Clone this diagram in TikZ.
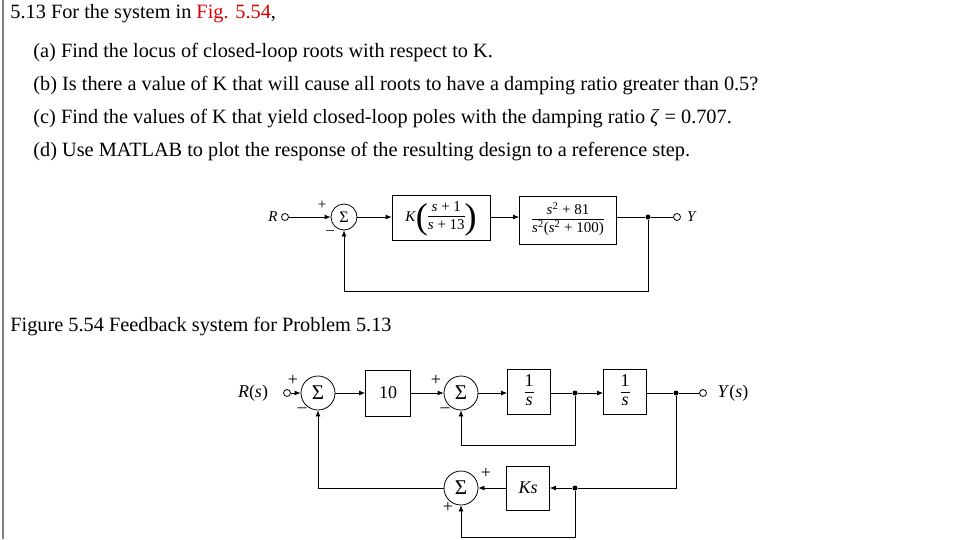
\documentclass[tikz,border=0pt]{standalone}
\usepackage{fontspec}
\setmainfont{Liberation Serif}
\usetikzlibrary{arrows.meta}
\newcommand\fr[2]{\begin{tabular}{@{}c@{}}\rule[-2pt]{0pt}{10pt}#1\\\hline\rule{0pt}{13pt}#2\end{tabular}}
\newcommand\bigpar[1]{\raisebox{-7pt}{\fontsize{36}{36}\selectfont #1}}
\begin{document}
\begin{tikzpicture}[x=1pt,y=-1pt,
  txt/.style={anchor=west,inner sep=0,font=\fontsize{20.3}{22}\selectfont},
  sumn/.style={draw,circle,minimum size=#1,inner sep=0,font=\fontsize{21}{22}\selectfont},
  term/.style={draw,circle,minimum size=7pt,inner sep=0,fill=white},
  dot/.style={circle,fill,minimum size=5pt,inner sep=0},
  sig/.style={-{Latex[length=6pt,width=5pt]}},
  lb/.style={inner sep=0,font=\fontsize{18}{19}\selectfont},
  bx/.style={draw,inner sep=0,font=\fontsize{18}{19}\selectfont},
  sm/.style={font=\fontsize{15}{16}\selectfont},
  every path/.style={line width=0.8pt}]
\useasboundingbox (0,0) rectangle (968,539);
\draw[gray,line width=1.2pt] (3,0) -- (3,539);
\node[txt] (t0) at (10,14) {5.13 For the system in \textcolor{red!85!black}{Fig. 5.54},};
\node[txt] (ta) at (33,53) {(a) Find the locus of closed-loop roots with respect to K.};
\node[txt] (tb) at (33,86) {(b) Is there a value of K that will cause all roots to have a damping ratio greater than 0.5?};
\node[txt] (tc) at (33,119) {(c) Find the values of K that yield closed-loop poles with the damping ratio \textit{ζ} = 0.707.};
\node[txt] (td) at (33,152) {(d) Use MATLAB to plot the response of the resulting design to a reference step.};
\node[txt] (fig) at (10,327) {Figure 5.54 Feedback system for Problem 5.13};
% diagram 1
\node[lb,sm] (R) at (273,217) {\textit{R}};
\node[term] (Rc) at (285,217) {};
\node[sumn=26pt,font=\fontsize{16}{17}\selectfont] (S) at (344,217) {Σ};
\node[bx,sm,minimum width=98pt,minimum height=45pt] (B1) at (441,218) {\textit{K}\bigpar{(}\fr{\textit{s} + 1}{\textit{s} + 13}\bigpar{)}};
\node[bx,sm,minimum width=97pt,minimum height=48pt] (B2) at (568,220) {\fr{\textit{s}\textsuperscript{2} + 81}{\textit{s}\textsuperscript{2}(\textit{s}\textsuperscript{2} + 100)}};
\node[dot] (J) at (648,217) {};
\node[term] (Yc) at (677,217) {};
\node[lb,sm] (Y) at (692,217) {\textit{Y}};
\draw[sig] (Rc) -- (S);
\draw[sig] (S) -- (S-|B1.west);
\draw[sig] (B1.east|-J) -- (B2.west|-J);
\draw (B2.east|-J) -- (J) -- (Yc);
\draw[sig] (J) -- (648,291) -- (344,291) -- (S);
\node[lb,sm] at (322,205) {+};
\node[lb,sm] at (330,233) {–};
% diagram 2
\node[lb] (R2) at (253,393) {\textit{R}(\textit{s})};
\node[term] (Rc2) at (287,393) {};
\node[sumn=34pt] (S1) at (318,393) {Σ};
\node[bx,minimum width=45pt,minimum height=46pt] (K10) at (388,393) {10};
\node[sumn=34pt] (S2) at (461,393) {Σ};
\node[bx,minimum width=43pt,minimum height=45pt] (I1) at (529,392) {\fr{1}{\textit{s}}};
\node[dot] (J1) at (575,393) {};
\node[bx,minimum width=43pt,minimum height=45pt] (I2) at (625,392) {\fr{1}{\textit{s}}};
\node[dot] (J2) at (676,393) {};
\node[term] (Yc2) at (703,393) {};
\node[lb] (Y2) at (733,393) {\textit{Y}(\textit{s})};
\node[sumn=34pt] (S3) at (461,488) {Σ};
\node[bx,minimum width=43pt,minimum height=44pt] (Ks) at (528,488) {\textit{Ks}};
\node[dot] (J3) at (575,488) {};
\draw[sig] (Rc2) -- (S1);
\draw[sig] (S1) -- (K10);
\draw[sig] (K10) -- (S2);
\draw[sig] (S2) -- (S2-|I1.west);
\draw (I1.east|-J1) -- (J1);
\draw[sig] (J1) -- (I2.west|-J1);
\draw (I2.east|-J2) -- (J2) -- (Yc2);
\draw[sig] (J1) -- (575,445) -- (461,445) -- (S2);
\draw (J2) -- (676,488) -- (J3);
\draw[sig] (J3) -- (Ks);
\draw[sig] (Ks) -- (S3);
\draw[sig] (J3) -- (575,537) -- (461,537) -- (S3);
\draw[sig] (S3) -- (318,488) -- (S1);
\node[lb] at (293,380) {+};
\node[lb] at (302,410) {–};
\node[lb] at (436,380) {+};
\node[lb] at (445,410) {–};
\node[lb] at (486,473) {+};
\node[lb] at (448,507) {+};
\end{tikzpicture}
\end{document}
